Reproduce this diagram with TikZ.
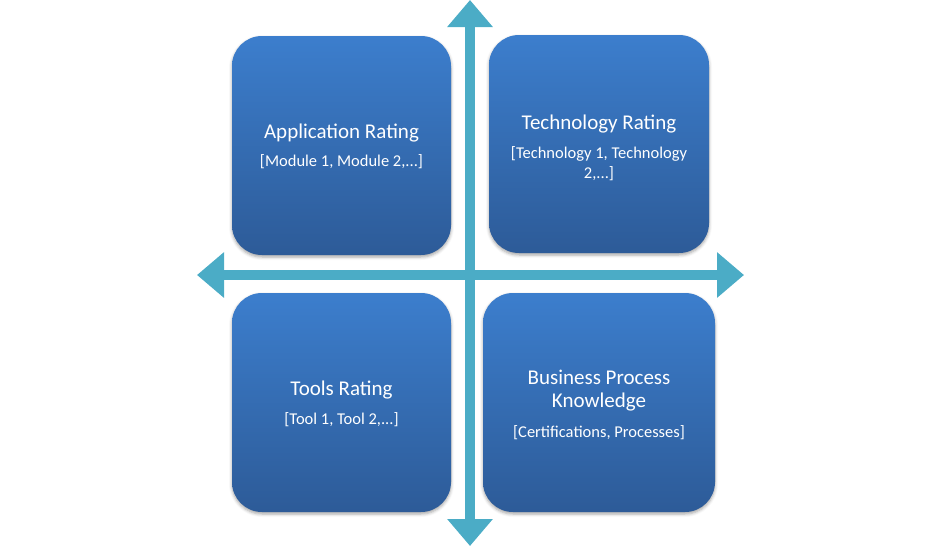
\documentclass[tikz,border=0pt]{standalone}
\usepackage{fontspec}
\setmainfont{Carlito}
\usetikzlibrary{arrows.meta,shadows.blur}
\definecolor{axiscol}{RGB}{75,172,198}
\definecolor{boxtop}{RGB}{60,126,205}
\definecolor{boxbot}{RGB}{45,91,152}
\tikzset{
  quad/.style={rounded corners=30pt, top color=boxtop, bottom color=boxbot, draw=none,
    blur shadow={shadow xshift=0pt, shadow yshift=-2pt, shadow blur radius=3pt, shadow opacity=35}},
  ttl/.style={text=white, align=center, inner sep=0pt, font=\fontsize{21}{23}\selectfont},
  sub/.style={text=white, align=center, inner sep=0pt, font=\fontsize{16.5}{19.5}\selectfont},
  axis/.style={draw=axiscol, line width=10pt, {Triangle[length=27pt,width=44pt]}-{Triangle[length=27pt,width=44pt]}}
}
\begin{document}
\begin{tikzpicture}[x=1pt,y=-1pt]
\useasboundingbox (0,0) rectangle (939,547);
% boxes
\path[quad] (232,36) rectangle (451,255);
\path[quad] (489,35) rectangle (709,253);
\path[quad] (232,293) rectangle (451,512);
\path[quad] (483,293) rectangle (715,512);
% texts
\node[ttl] (appt) at (341.5,133) {Application Rating};
\node[sub] (apps) at (341.5,162) {[Module 1, Module 2,...]};
\node[ttl] (techt) at (599,124) {Technology Rating};
\node[sub] (techs) at (599,163.5) {[Technology 1, Technology\\2,...]};
\node[ttl] (toolt) at (341.5,390) {Tools Rating};
\node[sub] (tools) at (341.5,420) {[Tool 1, Tool 2,...]};
\node[ttl] (bizt) at (599,391) {Business Process\\Knowledge};
\node[sub] (bizs) at (599,432.5) {[Certifications, Processes]};
% axes
\coordinate (top) at (470,0);
\coordinate (bottom) at (470,546);
\coordinate (left) at (197,275);
\coordinate (right) at (744,275);
\draw[axis] (bottom) -- (top);
\draw[axis] (left) -- (right);
\end{tikzpicture}
\end{document}
